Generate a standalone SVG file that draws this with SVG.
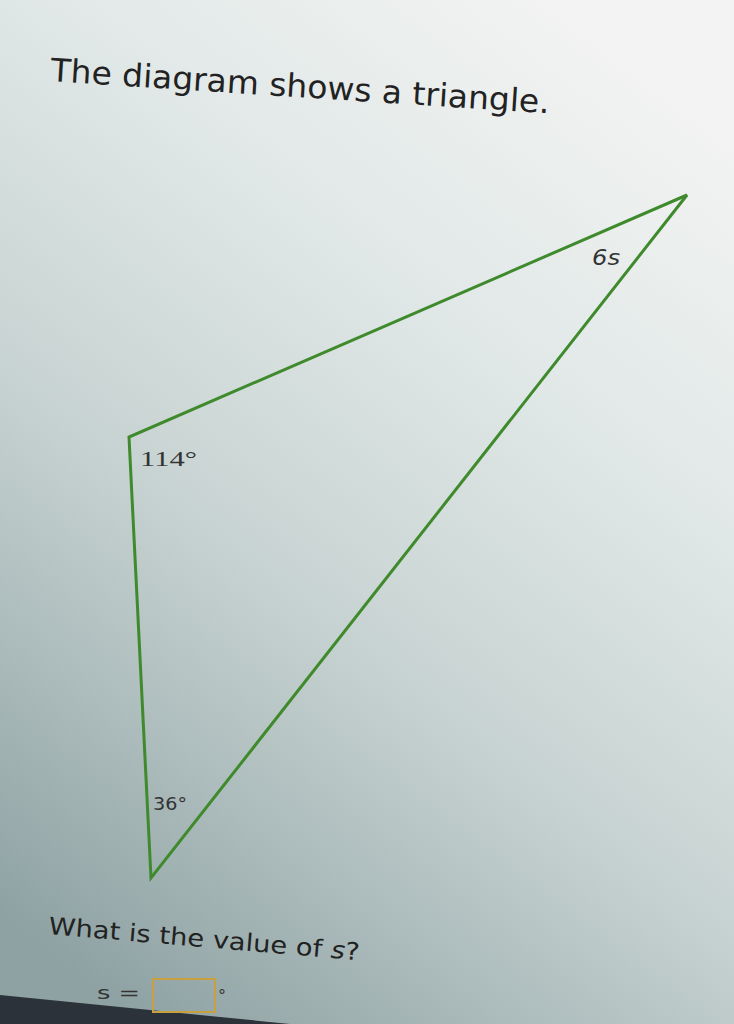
<svg xmlns="http://www.w3.org/2000/svg" width="734" height="1024" viewBox="0 0 734 1024">
<defs>
<linearGradient id="bg" x1="0.75" y1="0" x2="0.2" y2="1">
<stop offset="0" stop-color="#f2f3f2"/>
<stop offset="0.3" stop-color="#e0e8e7"/>
<stop offset="0.6" stop-color="#c6d2d1"/>
<stop offset="1" stop-color="#8fa2a3"/>
</linearGradient>
<style>
.t{font-family:"DejaVu Sans","Liberation Sans",sans-serif;fill:#222}
.lbl{font-family:"DejaVu Sans","Liberation Sans",sans-serif;fill:#333}
</style>
</defs>
<rect width="734" height="1024" fill="url(#bg)"/>
<polygon points="0,995 290,1024 0,1024" fill="#2b323a"/>
<g id="title"><text class="t" x="50" y="81" font-size="32" textLength="500" lengthAdjust="spacingAndGlyphs" transform="rotate(3.7 50 81)">The diagram shows a triangle.</text></g>
<g id="triangle"><polygon points="687,195 129,437 151,878" fill="none" stroke="#3f8a2c" stroke-width="3" stroke-linejoin="miter"/></g>
<g id="labels">
<text x="140" y="466" font-family="Liberation Serif,serif" font-size="22" fill="#333" textLength="57" lengthAdjust="spacingAndGlyphs">114°</text>
<text class="lbl" x="153" y="810" font-size="18" textLength="34" lengthAdjust="spacingAndGlyphs">36°</text>
<text class="lbl" x="592" y="265" font-size="21" font-style="italic" textLength="28" lengthAdjust="spacingAndGlyphs">6s</text>
</g>
<g id="question"><text class="t" x="48" y="934" font-size="24" fill="#333" textLength="312" lengthAdjust="spacingAndGlyphs" transform="rotate(4.8 48 934)">What is the value of <tspan font-style="italic">s</tspan>?</text></g>
<g id="answer">
<text class="lbl" x="97" y="999" font-size="18" fill="#555" textLength="43" lengthAdjust="spacingAndGlyphs">s =</text>
<rect x="153" y="979" width="62" height="33" fill="none" stroke="#c9a040" stroke-width="2"/>
<text class="lbl" x="218" y="1001" font-size="16" fill="#444">°</text>
</g>
</svg>
